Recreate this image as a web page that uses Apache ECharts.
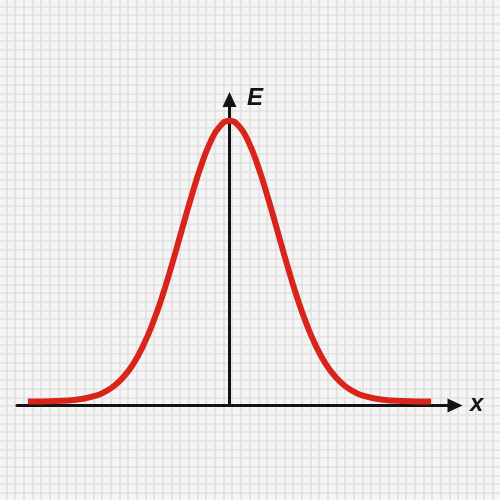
<!DOCTYPE html>
<html>
<head>
<meta charset="utf-8">
<script src="https://cdn.jsdelivr.net/npm/echarts@6/dist/echarts.min.js"></script>
<style>
html,body{margin:0;padding:0;background:#f5f5f5;}
#chart{width:500px;height:500px;}
</style>
</head>
<body>
<div id="chart"></div>
<script>
// Curve samples (x in sigma units, E relative to peak)
var curveX = [-4.2, -3.6, -3.2, -2.8, -2.6, -2.4, -2.2, -2.0, -1.8, -1.6, -1.4, -1.2, -1.0, -0.8, -0.6, -0.4, -0.2, 0.0,
              0.2, 0.4, 0.6, 0.8, 1.0, 1.2, 1.4, 1.6, 1.8, 2.0, 2.2, 2.4, 2.6, 2.8, 3.2, 3.6, 4.2];
var curveE = [0.000, 0.002, 0.006, 0.020, 0.034, 0.056, 0.089, 0.135, 0.198, 0.278, 0.375, 0.487, 0.607, 0.726, 0.835, 0.923, 0.980, 1.000,
              0.980, 0.923, 0.835, 0.726, 0.607, 0.487, 0.375, 0.278, 0.198, 0.135, 0.089, 0.056, 0.034, 0.020, 0.006, 0.002, 0.000];
var axisNames = ['x', 'E'];
var paperCells = 58;

var chart = echarts.init(document.getElementById('chart'), null, {renderer: 'canvas'});
var points = curveX.map(function (x, i) { return [x, curveE[i]]; });
var cell = 8.686;

function paperAxis(inv) {
  return {
    type: 'value', gridIndex: 1, min: 0, max: paperCells, interval: 1, inverse: inv,
    axisLine: {show: false}, axisTick: {show: false}, axisLabel: {show: false},
    splitLine: {show: true, lineStyle: {color: '#e0e0e0', width: 1.6}}
  };
}

var option = {
  backgroundColor: '#f5f5f5',
  animation: false,
  grid: [
    {left: 17, right: 45, top: 99.5, bottom: 94.5, outerBoundsMode: 'none'},
    {left: 6.4 - cell, top: 6.4 - cell, width: paperCells * cell, height: paperCells * cell, outerBoundsMode: 'none'}
  ],
  xAxis: [
    {
      type: 'value', gridIndex: 0, min: -4.427, max: 4.698,
      axisLine: {show: true, onZero: false, symbol: ['none', 'triangle'], symbolSize: [14, 15],
                 lineStyle: {color: '#141414', width: 3}},
      axisTick: {show: false}, axisLabel: {show: false}, splitLine: {show: false}
    },
    paperAxis(false)
  ],
  yAxis: [
    {
      type: 'value', gridIndex: 0, min: -0.01425, max: 1.0755,
      axisLine: {show: true, onZero: true, symbol: ['none', 'triangle'], symbolSize: [14, 15],
                 lineStyle: {color: '#141414', width: 3}},
      axisTick: {show: false}, axisLabel: {show: false}, splitLine: {show: false}
    },
    paperAxis(true)
  ],
  series: [
    {
      type: 'line', xAxisIndex: 0, yAxisIndex: 0, data: points, smooth: true,
      showSymbol: false, symbol: 'none', z: 5,
      lineStyle: {color: '#d9241c', width: 6, cap: 'butt'}
    }
  ],
  graphic: [
    {type: 'text', x: 247, y: 98, z: 100,
     style: {text: axisNames[1], font: 'italic bold 24px "Liberation Sans", Arial, sans-serif', fill: '#141414', verticalAlign: 'middle', align: 'left'}},
    {type: 'text', x: 470, y: 404, z: 100,
     style: {text: axisNames[0], font: 'italic bold 24px "Liberation Sans", Arial, sans-serif', fill: '#141414', verticalAlign: 'middle', align: 'left'}}
  ]
};
chart.setOption(option);
</script>
</body>
</html>
